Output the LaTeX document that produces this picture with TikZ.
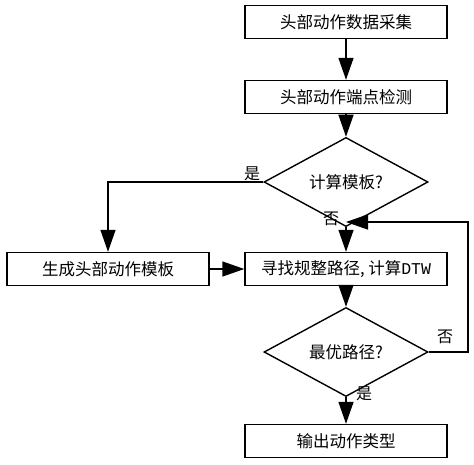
\documentclass[tikz,border=0pt]{standalone}
\usepackage{fontspec}
\setmainfont{Noto Sans CJK SC}
\newfontfamily\dtwfont{Liberation Mono}
\usetikzlibrary{arrows.meta,shapes.geometric}

\begin{document}
\begin{tikzpicture}[x=1pt, y=-1pt, line width=1.4pt,
        box/.style={draw, minimum width=202pt, minimum height=33pt, inner sep=0pt, font=\fontsize{16.5}{18}\selectfont},
        dec/.style={draw, diamond, minimum width=164pt, minimum height=51pt, inner sep=0pt, font=\fontsize{16.5}{18}\selectfont},
        lbl/.style={font=\fontsize{16}{18}\selectfont, inner sep=0pt},
        arr/.style={-{Triangle[length=22pt,width=15pt]}}]
        \useasboundingbox (0,0) rectangle (474,464);

        \node[box] (collect) at (346,22) {头部动作数据采集};
        \node[box] (detect) at (346,97) {头部动作端点检测};
        \node[dec] (istpl) at (346,182) {计算模板?};
        \node[box] (gentpl) at (108,269) {生成头部动作模板};
        \node[box] (dtw) at (346,269) {寻找规整路径, 计算{\dtwfont DTW}};
        \node[dec] (best) at (346,352) {最优路径?};
        \node[box] (output) at (346,441) {输出动作类型};

        \coordinate (loop) at (468,222);
        \coordinate (join) at (346,222);

        \draw[arr] (collect) to (detect);
        \draw[arr] (detect) to (istpl);
        \draw[arr] (istpl.west) -| (gentpl.north);
        \draw[arr] (istpl) to (dtw);
        \draw[arr] (gentpl) to (dtw);
        \draw[arr] (dtw) to (best);
        \draw[arr] (best) to (output);
        \draw[arr] (best.east) -| (loop) -- (join);

        \node[lbl] (yes1) at (252,174) {是};
        \node[lbl] (no1) at (331,219) {否};
        \node[lbl] (no2) at (445,337) {否};
        \node[lbl] (yes2) at (364,394) {是};

      \end{tikzpicture}
\end{document}
